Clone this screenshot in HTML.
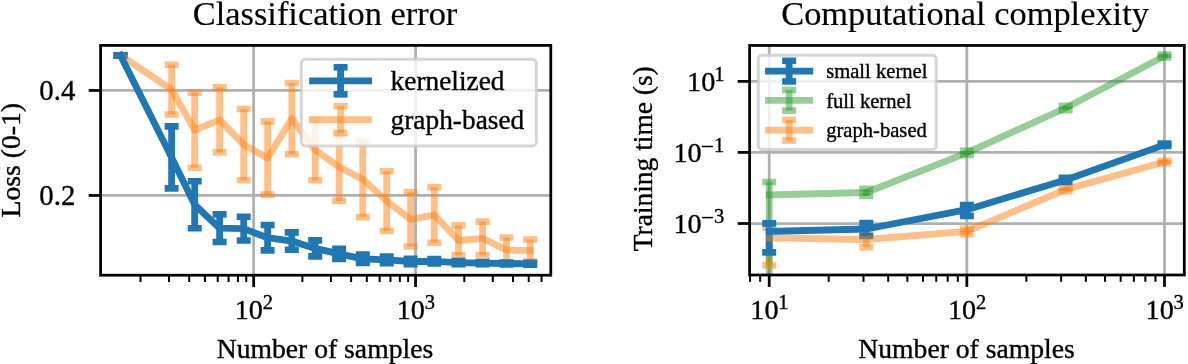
<!DOCTYPE html>
<html><head><meta charset="utf-8"><style>
html,body{margin:0;padding:0;background:#fff;width:1188px;height:364px;overflow:hidden}
text{font-family:"Liberation Serif", serif;stroke:#000;stroke-width:0.35px}
</style></head><body>
<svg width="1188" height="364" viewBox="0 0 1188 364" style="display:block;will-change:transform">
<rect width="1188" height="364" fill="#fff"/>
<defs>
<clipPath id="cl"><rect x="100.6" y="45.4" width="450.19999999999993" height="229.79999999999998"/></clipPath>
<clipPath id="cr"><rect x="749.6" y="45.45" width="434.69999999999993" height="229.55"/></clipPath>
</defs>
<g clip-path="url(#cl)">
<line x1="253.65" y1="45.4" x2="253.65" y2="275.2" stroke="#b0b0b0" stroke-width="2.75"/>
<line x1="415.55" y1="45.4" x2="415.55" y2="275.2" stroke="#b0b0b0" stroke-width="2.75"/>
<line x1="100.6" y1="90.45" x2="550.8" y2="90.45" stroke="#b0b0b0" stroke-width="2.75"/>
<line x1="100.6" y1="195.45" x2="550.8" y2="195.45" stroke="#b0b0b0" stroke-width="2.75"/>
<line x1="171.60" y1="64.70" x2="171.60" y2="114.50" stroke="#ff7f0e" stroke-width="6.8" stroke-opacity="0.5"/>
<line x1="194.70" y1="92.60" x2="194.70" y2="167.80" stroke="#ff7f0e" stroke-width="6.8" stroke-opacity="0.5"/>
<line x1="219.60" y1="87.40" x2="219.60" y2="152.40" stroke="#ff7f0e" stroke-width="6.8" stroke-opacity="0.5"/>
<line x1="243.70" y1="109.00" x2="243.70" y2="180.20" stroke="#ff7f0e" stroke-width="6.8" stroke-opacity="0.5"/>
<line x1="267.60" y1="121.40" x2="267.60" y2="194.60" stroke="#ff7f0e" stroke-width="6.8" stroke-opacity="0.5"/>
<line x1="291.80" y1="83.00" x2="291.80" y2="154.20" stroke="#ff7f0e" stroke-width="6.8" stroke-opacity="0.5"/>
<line x1="315.20" y1="119.50" x2="315.20" y2="180.30" stroke="#ff7f0e" stroke-width="6.8" stroke-opacity="0.5"/>
<line x1="339.10" y1="133.10" x2="339.10" y2="200.90" stroke="#ff7f0e" stroke-width="6.8" stroke-opacity="0.5"/>
<line x1="362.80" y1="141.50" x2="362.80" y2="217.10" stroke="#ff7f0e" stroke-width="6.8" stroke-opacity="0.5"/>
<line x1="386.70" y1="171.20" x2="386.70" y2="231.00" stroke="#ff7f0e" stroke-width="6.8" stroke-opacity="0.5"/>
<line x1="410.60" y1="192.10" x2="410.60" y2="246.50" stroke="#ff7f0e" stroke-width="6.8" stroke-opacity="0.5"/>
<line x1="434.30" y1="187.30" x2="434.30" y2="242.70" stroke="#ff7f0e" stroke-width="6.8" stroke-opacity="0.5"/>
<line x1="458.50" y1="225.40" x2="458.50" y2="255.20" stroke="#ff7f0e" stroke-width="6.8" stroke-opacity="0.5"/>
<line x1="482.60" y1="221.60" x2="482.60" y2="255.20" stroke="#ff7f0e" stroke-width="6.8" stroke-opacity="0.5"/>
<line x1="506.50" y1="237.50" x2="506.50" y2="262.50" stroke="#ff7f0e" stroke-width="6.8" stroke-opacity="0.5"/>
<line x1="530.20" y1="239.50" x2="530.20" y2="261.50" stroke="#ff7f0e" stroke-width="6.8" stroke-opacity="0.5"/>
<line x1="171.60" y1="126.40" x2="171.60" y2="188.40" stroke="#1f77b4" stroke-width="6.8"/>
<line x1="194.70" y1="181.20" x2="194.70" y2="228.20" stroke="#1f77b4" stroke-width="6.8"/>
<line x1="219.60" y1="214.40" x2="219.60" y2="242.00" stroke="#1f77b4" stroke-width="6.8"/>
<line x1="243.70" y1="216.70" x2="243.70" y2="240.50" stroke="#1f77b4" stroke-width="6.8"/>
<line x1="267.60" y1="225.00" x2="267.60" y2="250.40" stroke="#1f77b4" stroke-width="6.8"/>
<line x1="291.80" y1="232.40" x2="291.80" y2="249.80" stroke="#1f77b4" stroke-width="6.8"/>
<line x1="315.20" y1="240.40" x2="315.20" y2="256.40" stroke="#1f77b4" stroke-width="6.8"/>
<line x1="339.10" y1="248.90" x2="339.10" y2="258.90" stroke="#1f77b4" stroke-width="6.8"/>
<line x1="362.80" y1="254.60" x2="362.80" y2="263.00" stroke="#1f77b4" stroke-width="6.8"/>
<line x1="386.70" y1="256.60" x2="386.70" y2="263.20" stroke="#1f77b4" stroke-width="6.8"/>
<line x1="410.60" y1="258.75" x2="410.60" y2="264.25" stroke="#1f77b4" stroke-width="6.8"/>
<line x1="434.30" y1="259.05" x2="434.30" y2="263.55" stroke="#1f77b4" stroke-width="6.8"/>
<line x1="458.50" y1="261.00" x2="458.50" y2="264.20" stroke="#1f77b4" stroke-width="6.8"/>
<line x1="482.60" y1="262.10" x2="482.60" y2="264.30" stroke="#1f77b4" stroke-width="6.8"/>
<line x1="506.50" y1="262.50" x2="506.50" y2="264.50" stroke="#1f77b4" stroke-width="6.8"/>
<line x1="530.20" y1="262.80" x2="530.20" y2="264.80" stroke="#1f77b4" stroke-width="6.8"/>
<line x1="113.50" y1="55.40" x2="127.50" y2="55.40" stroke="#ff7f0e" stroke-width="6.6" stroke-opacity="0.5"/>
<line x1="164.60" y1="114.50" x2="178.60" y2="114.50" stroke="#ff7f0e" stroke-width="6.6" stroke-opacity="0.5"/>
<line x1="187.70" y1="167.80" x2="201.70" y2="167.80" stroke="#ff7f0e" stroke-width="6.6" stroke-opacity="0.5"/>
<line x1="212.60" y1="152.40" x2="226.60" y2="152.40" stroke="#ff7f0e" stroke-width="6.6" stroke-opacity="0.5"/>
<line x1="236.70" y1="180.20" x2="250.70" y2="180.20" stroke="#ff7f0e" stroke-width="6.6" stroke-opacity="0.5"/>
<line x1="260.60" y1="194.60" x2="274.60" y2="194.60" stroke="#ff7f0e" stroke-width="6.6" stroke-opacity="0.5"/>
<line x1="284.80" y1="154.20" x2="298.80" y2="154.20" stroke="#ff7f0e" stroke-width="6.6" stroke-opacity="0.5"/>
<line x1="308.20" y1="180.30" x2="322.20" y2="180.30" stroke="#ff7f0e" stroke-width="6.6" stroke-opacity="0.5"/>
<line x1="332.10" y1="200.90" x2="346.10" y2="200.90" stroke="#ff7f0e" stroke-width="6.6" stroke-opacity="0.5"/>
<line x1="355.80" y1="217.10" x2="369.80" y2="217.10" stroke="#ff7f0e" stroke-width="6.6" stroke-opacity="0.5"/>
<line x1="379.70" y1="231.00" x2="393.70" y2="231.00" stroke="#ff7f0e" stroke-width="6.6" stroke-opacity="0.5"/>
<line x1="403.60" y1="246.50" x2="417.60" y2="246.50" stroke="#ff7f0e" stroke-width="6.6" stroke-opacity="0.5"/>
<line x1="427.30" y1="242.70" x2="441.30" y2="242.70" stroke="#ff7f0e" stroke-width="6.6" stroke-opacity="0.5"/>
<line x1="451.50" y1="255.20" x2="465.50" y2="255.20" stroke="#ff7f0e" stroke-width="6.6" stroke-opacity="0.5"/>
<line x1="475.60" y1="255.20" x2="489.60" y2="255.20" stroke="#ff7f0e" stroke-width="6.6" stroke-opacity="0.5"/>
<line x1="499.50" y1="262.50" x2="513.50" y2="262.50" stroke="#ff7f0e" stroke-width="6.6" stroke-opacity="0.5"/>
<line x1="523.20" y1="261.50" x2="537.20" y2="261.50" stroke="#ff7f0e" stroke-width="6.6" stroke-opacity="0.5"/>
<line x1="113.50" y1="55.40" x2="127.50" y2="55.40" stroke="#ff7f0e" stroke-width="6.6" stroke-opacity="0.5"/>
<line x1="164.60" y1="64.70" x2="178.60" y2="64.70" stroke="#ff7f0e" stroke-width="6.6" stroke-opacity="0.5"/>
<line x1="187.70" y1="92.60" x2="201.70" y2="92.60" stroke="#ff7f0e" stroke-width="6.6" stroke-opacity="0.5"/>
<line x1="212.60" y1="87.40" x2="226.60" y2="87.40" stroke="#ff7f0e" stroke-width="6.6" stroke-opacity="0.5"/>
<line x1="236.70" y1="109.00" x2="250.70" y2="109.00" stroke="#ff7f0e" stroke-width="6.6" stroke-opacity="0.5"/>
<line x1="260.60" y1="121.40" x2="274.60" y2="121.40" stroke="#ff7f0e" stroke-width="6.6" stroke-opacity="0.5"/>
<line x1="284.80" y1="83.00" x2="298.80" y2="83.00" stroke="#ff7f0e" stroke-width="6.6" stroke-opacity="0.5"/>
<line x1="308.20" y1="119.50" x2="322.20" y2="119.50" stroke="#ff7f0e" stroke-width="6.6" stroke-opacity="0.5"/>
<line x1="332.10" y1="133.10" x2="346.10" y2="133.10" stroke="#ff7f0e" stroke-width="6.6" stroke-opacity="0.5"/>
<line x1="355.80" y1="141.50" x2="369.80" y2="141.50" stroke="#ff7f0e" stroke-width="6.6" stroke-opacity="0.5"/>
<line x1="379.70" y1="171.20" x2="393.70" y2="171.20" stroke="#ff7f0e" stroke-width="6.6" stroke-opacity="0.5"/>
<line x1="403.60" y1="192.10" x2="417.60" y2="192.10" stroke="#ff7f0e" stroke-width="6.6" stroke-opacity="0.5"/>
<line x1="427.30" y1="187.30" x2="441.30" y2="187.30" stroke="#ff7f0e" stroke-width="6.6" stroke-opacity="0.5"/>
<line x1="451.50" y1="225.40" x2="465.50" y2="225.40" stroke="#ff7f0e" stroke-width="6.6" stroke-opacity="0.5"/>
<line x1="475.60" y1="221.60" x2="489.60" y2="221.60" stroke="#ff7f0e" stroke-width="6.6" stroke-opacity="0.5"/>
<line x1="499.50" y1="237.50" x2="513.50" y2="237.50" stroke="#ff7f0e" stroke-width="6.6" stroke-opacity="0.5"/>
<line x1="523.20" y1="239.50" x2="537.20" y2="239.50" stroke="#ff7f0e" stroke-width="6.6" stroke-opacity="0.5"/>
<line x1="113.50" y1="55.40" x2="127.50" y2="55.40" stroke="#1f77b4" stroke-width="6.6"/>
<line x1="164.60" y1="188.40" x2="178.60" y2="188.40" stroke="#1f77b4" stroke-width="6.6"/>
<line x1="187.70" y1="228.20" x2="201.70" y2="228.20" stroke="#1f77b4" stroke-width="6.6"/>
<line x1="212.60" y1="242.00" x2="226.60" y2="242.00" stroke="#1f77b4" stroke-width="6.6"/>
<line x1="236.70" y1="240.50" x2="250.70" y2="240.50" stroke="#1f77b4" stroke-width="6.6"/>
<line x1="260.60" y1="250.40" x2="274.60" y2="250.40" stroke="#1f77b4" stroke-width="6.6"/>
<line x1="284.80" y1="249.80" x2="298.80" y2="249.80" stroke="#1f77b4" stroke-width="6.6"/>
<line x1="308.20" y1="256.40" x2="322.20" y2="256.40" stroke="#1f77b4" stroke-width="6.6"/>
<line x1="332.10" y1="258.90" x2="346.10" y2="258.90" stroke="#1f77b4" stroke-width="6.6"/>
<line x1="355.80" y1="263.00" x2="369.80" y2="263.00" stroke="#1f77b4" stroke-width="6.6"/>
<line x1="379.70" y1="263.20" x2="393.70" y2="263.20" stroke="#1f77b4" stroke-width="6.6"/>
<line x1="403.60" y1="264.25" x2="417.60" y2="264.25" stroke="#1f77b4" stroke-width="6.6"/>
<line x1="427.30" y1="263.55" x2="441.30" y2="263.55" stroke="#1f77b4" stroke-width="6.6"/>
<line x1="451.50" y1="264.20" x2="465.50" y2="264.20" stroke="#1f77b4" stroke-width="6.6"/>
<line x1="475.60" y1="264.30" x2="489.60" y2="264.30" stroke="#1f77b4" stroke-width="6.6"/>
<line x1="499.50" y1="264.50" x2="513.50" y2="264.50" stroke="#1f77b4" stroke-width="6.6"/>
<line x1="523.20" y1="264.80" x2="537.20" y2="264.80" stroke="#1f77b4" stroke-width="6.6"/>
<line x1="113.50" y1="55.40" x2="127.50" y2="55.40" stroke="#1f77b4" stroke-width="6.6"/>
<line x1="164.60" y1="126.40" x2="178.60" y2="126.40" stroke="#1f77b4" stroke-width="6.6"/>
<line x1="187.70" y1="181.20" x2="201.70" y2="181.20" stroke="#1f77b4" stroke-width="6.6"/>
<line x1="212.60" y1="214.40" x2="226.60" y2="214.40" stroke="#1f77b4" stroke-width="6.6"/>
<line x1="236.70" y1="216.70" x2="250.70" y2="216.70" stroke="#1f77b4" stroke-width="6.6"/>
<line x1="260.60" y1="225.00" x2="274.60" y2="225.00" stroke="#1f77b4" stroke-width="6.6"/>
<line x1="284.80" y1="232.40" x2="298.80" y2="232.40" stroke="#1f77b4" stroke-width="6.6"/>
<line x1="308.20" y1="240.40" x2="322.20" y2="240.40" stroke="#1f77b4" stroke-width="6.6"/>
<line x1="332.10" y1="248.90" x2="346.10" y2="248.90" stroke="#1f77b4" stroke-width="6.6"/>
<line x1="355.80" y1="254.60" x2="369.80" y2="254.60" stroke="#1f77b4" stroke-width="6.6"/>
<line x1="379.70" y1="256.60" x2="393.70" y2="256.60" stroke="#1f77b4" stroke-width="6.6"/>
<line x1="403.60" y1="258.75" x2="417.60" y2="258.75" stroke="#1f77b4" stroke-width="6.6"/>
<line x1="427.30" y1="259.05" x2="441.30" y2="259.05" stroke="#1f77b4" stroke-width="6.6"/>
<line x1="451.50" y1="261.00" x2="465.50" y2="261.00" stroke="#1f77b4" stroke-width="6.6"/>
<line x1="475.60" y1="262.10" x2="489.60" y2="262.10" stroke="#1f77b4" stroke-width="6.6"/>
<line x1="499.50" y1="262.50" x2="513.50" y2="262.50" stroke="#1f77b4" stroke-width="6.6"/>
<line x1="523.20" y1="262.80" x2="537.20" y2="262.80" stroke="#1f77b4" stroke-width="6.6"/>
<polyline points="120.50,55.40 171.60,89.60 194.70,130.20 219.60,119.90 243.70,144.60 267.60,158.00 291.80,118.60 315.20,149.90 339.10,167.00 362.80,179.30 386.70,201.10 410.60,219.30 434.30,215.00 458.50,240.30 482.60,238.40 506.50,250.00 530.20,250.50" fill="none" stroke="#ff7f0e" stroke-width="6.8" stroke-linejoin="round" stroke-linecap="square" stroke-opacity="0.5"/>
<polyline points="120.50,55.40 171.60,157.40 194.70,204.70 219.60,228.20 243.70,228.60 267.60,237.70 291.80,241.10 315.20,248.40 339.10,253.90 362.80,258.80 386.70,259.90 410.60,261.50 434.30,261.30 458.50,262.60 482.60,263.20 506.50,263.50 530.20,263.80" fill="none" stroke="#1f77b4" stroke-width="6.8" stroke-linejoin="round" stroke-linecap="square"/>
</g>
<line x1="140.49" y1="275.2" x2="140.49" y2="282.00" stroke="#000" stroke-width="2.0"/>
<line x1="169.00" y1="275.2" x2="169.00" y2="282.00" stroke="#000" stroke-width="2.0"/>
<line x1="189.22" y1="275.2" x2="189.22" y2="282.00" stroke="#000" stroke-width="2.0"/>
<line x1="204.91" y1="275.2" x2="204.91" y2="282.00" stroke="#000" stroke-width="2.0"/>
<line x1="217.73" y1="275.2" x2="217.73" y2="282.00" stroke="#000" stroke-width="2.0"/>
<line x1="228.57" y1="275.2" x2="228.57" y2="282.00" stroke="#000" stroke-width="2.0"/>
<line x1="237.96" y1="275.2" x2="237.96" y2="282.00" stroke="#000" stroke-width="2.0"/>
<line x1="246.24" y1="275.2" x2="246.24" y2="282.00" stroke="#000" stroke-width="2.0"/>
<line x1="253.65" y1="275.2" x2="253.65" y2="287.10" stroke="#000" stroke-width="2.75"/>
<line x1="302.39" y1="275.2" x2="302.39" y2="282.00" stroke="#000" stroke-width="2.0"/>
<line x1="330.90" y1="275.2" x2="330.90" y2="282.00" stroke="#000" stroke-width="2.0"/>
<line x1="351.12" y1="275.2" x2="351.12" y2="282.00" stroke="#000" stroke-width="2.0"/>
<line x1="366.81" y1="275.2" x2="366.81" y2="282.00" stroke="#000" stroke-width="2.0"/>
<line x1="379.63" y1="275.2" x2="379.63" y2="282.00" stroke="#000" stroke-width="2.0"/>
<line x1="390.47" y1="275.2" x2="390.47" y2="282.00" stroke="#000" stroke-width="2.0"/>
<line x1="399.86" y1="275.2" x2="399.86" y2="282.00" stroke="#000" stroke-width="2.0"/>
<line x1="408.14" y1="275.2" x2="408.14" y2="282.00" stroke="#000" stroke-width="2.0"/>
<line x1="415.55" y1="275.2" x2="415.55" y2="287.10" stroke="#000" stroke-width="2.75"/>
<line x1="464.29" y1="275.2" x2="464.29" y2="282.00" stroke="#000" stroke-width="2.0"/>
<line x1="492.80" y1="275.2" x2="492.80" y2="282.00" stroke="#000" stroke-width="2.0"/>
<line x1="513.02" y1="275.2" x2="513.02" y2="282.00" stroke="#000" stroke-width="2.0"/>
<line x1="528.71" y1="275.2" x2="528.71" y2="282.00" stroke="#000" stroke-width="2.0"/>
<line x1="541.53" y1="275.2" x2="541.53" y2="282.00" stroke="#000" stroke-width="2.0"/>
<line x1="100.6" y1="90.45" x2="88.70" y2="90.45" stroke="#000" stroke-width="2.75"/>
<line x1="100.6" y1="195.45" x2="88.70" y2="195.45" stroke="#000" stroke-width="2.75"/>
<g clip-path="url(#cr)">
<line x1="769.2" y1="45.45" x2="769.2" y2="275.0" stroke="#b0b0b0" stroke-width="2.75"/>
<line x1="966.85" y1="45.45" x2="966.85" y2="275.0" stroke="#b0b0b0" stroke-width="2.75"/>
<line x1="1164.5" y1="45.45" x2="1164.5" y2="275.0" stroke="#b0b0b0" stroke-width="2.75"/>
<line x1="749.6" y1="81.4" x2="1184.3" y2="81.4" stroke="#b0b0b0" stroke-width="2.75"/>
<line x1="749.6" y1="152.4" x2="1184.3" y2="152.4" stroke="#b0b0b0" stroke-width="2.75"/>
<line x1="749.6" y1="223.5" x2="1184.3" y2="223.5" stroke="#b0b0b0" stroke-width="2.75"/>
<line x1="769.20" y1="228.00" x2="769.20" y2="265.40" stroke="#ff7f0e" stroke-width="6.8" stroke-opacity="0.5"/>
<line x1="866.30" y1="234.60" x2="866.30" y2="247.10" stroke="#ff7f0e" stroke-width="6.8" stroke-opacity="0.5"/>
<line x1="966.85" y1="228.70" x2="966.85" y2="234.20" stroke="#ff7f0e" stroke-width="6.8" stroke-opacity="0.5"/>
<line x1="1065.60" y1="187.50" x2="1065.60" y2="191.20" stroke="#ff7f0e" stroke-width="6.8" stroke-opacity="0.5"/>
<line x1="1164.50" y1="160.80" x2="1164.50" y2="163.20" stroke="#ff7f0e" stroke-width="6.8" stroke-opacity="0.5"/>
<line x1="769.20" y1="182.00" x2="769.20" y2="400.00" stroke="#2ca02c" stroke-width="6.8" stroke-opacity="0.5"/>
<line x1="866.30" y1="188.90" x2="866.30" y2="196.00" stroke="#2ca02c" stroke-width="6.8" stroke-opacity="0.5"/>
<line x1="966.85" y1="150.60" x2="966.85" y2="154.90" stroke="#2ca02c" stroke-width="6.8" stroke-opacity="0.5"/>
<line x1="1065.60" y1="105.80" x2="1065.60" y2="110.10" stroke="#2ca02c" stroke-width="6.8" stroke-opacity="0.5"/>
<line x1="1164.50" y1="54.60" x2="1164.50" y2="57.40" stroke="#2ca02c" stroke-width="6.8" stroke-opacity="0.5"/>
<line x1="769.20" y1="223.40" x2="769.20" y2="252.40" stroke="#1f77b4" stroke-width="6.8"/>
<line x1="866.30" y1="223.00" x2="866.30" y2="236.00" stroke="#1f77b4" stroke-width="6.8"/>
<line x1="966.85" y1="205.00" x2="966.85" y2="215.90" stroke="#1f77b4" stroke-width="6.8"/>
<line x1="1065.60" y1="177.90" x2="1065.60" y2="182.00" stroke="#1f77b4" stroke-width="6.8"/>
<line x1="1164.50" y1="143.60" x2="1164.50" y2="146.00" stroke="#1f77b4" stroke-width="6.8"/>
<line x1="762.20" y1="265.40" x2="776.20" y2="265.40" stroke="#ff7f0e" stroke-width="6.6" stroke-opacity="0.5"/>
<line x1="859.30" y1="247.10" x2="873.30" y2="247.10" stroke="#ff7f0e" stroke-width="6.6" stroke-opacity="0.5"/>
<line x1="959.85" y1="234.20" x2="973.85" y2="234.20" stroke="#ff7f0e" stroke-width="6.6" stroke-opacity="0.5"/>
<line x1="1058.60" y1="191.20" x2="1072.60" y2="191.20" stroke="#ff7f0e" stroke-width="6.6" stroke-opacity="0.5"/>
<line x1="1157.50" y1="163.20" x2="1171.50" y2="163.20" stroke="#ff7f0e" stroke-width="6.6" stroke-opacity="0.5"/>
<line x1="762.20" y1="228.00" x2="776.20" y2="228.00" stroke="#ff7f0e" stroke-width="6.6" stroke-opacity="0.5"/>
<line x1="859.30" y1="234.60" x2="873.30" y2="234.60" stroke="#ff7f0e" stroke-width="6.6" stroke-opacity="0.5"/>
<line x1="959.85" y1="228.70" x2="973.85" y2="228.70" stroke="#ff7f0e" stroke-width="6.6" stroke-opacity="0.5"/>
<line x1="1058.60" y1="187.50" x2="1072.60" y2="187.50" stroke="#ff7f0e" stroke-width="6.6" stroke-opacity="0.5"/>
<line x1="1157.50" y1="160.80" x2="1171.50" y2="160.80" stroke="#ff7f0e" stroke-width="6.6" stroke-opacity="0.5"/>
<line x1="859.30" y1="196.00" x2="873.30" y2="196.00" stroke="#2ca02c" stroke-width="6.6" stroke-opacity="0.5"/>
<line x1="959.85" y1="154.90" x2="973.85" y2="154.90" stroke="#2ca02c" stroke-width="6.6" stroke-opacity="0.5"/>
<line x1="1058.60" y1="110.10" x2="1072.60" y2="110.10" stroke="#2ca02c" stroke-width="6.6" stroke-opacity="0.5"/>
<line x1="1157.50" y1="57.40" x2="1171.50" y2="57.40" stroke="#2ca02c" stroke-width="6.6" stroke-opacity="0.5"/>
<line x1="762.20" y1="182.00" x2="776.20" y2="182.00" stroke="#2ca02c" stroke-width="6.6" stroke-opacity="0.5"/>
<line x1="859.30" y1="188.90" x2="873.30" y2="188.90" stroke="#2ca02c" stroke-width="6.6" stroke-opacity="0.5"/>
<line x1="959.85" y1="150.60" x2="973.85" y2="150.60" stroke="#2ca02c" stroke-width="6.6" stroke-opacity="0.5"/>
<line x1="1058.60" y1="105.80" x2="1072.60" y2="105.80" stroke="#2ca02c" stroke-width="6.6" stroke-opacity="0.5"/>
<line x1="1157.50" y1="54.60" x2="1171.50" y2="54.60" stroke="#2ca02c" stroke-width="6.6" stroke-opacity="0.5"/>
<line x1="762.20" y1="252.40" x2="776.20" y2="252.40" stroke="#1f77b4" stroke-width="6.6"/>
<line x1="859.30" y1="236.00" x2="873.30" y2="236.00" stroke="#1f77b4" stroke-width="6.6"/>
<line x1="959.85" y1="215.90" x2="973.85" y2="215.90" stroke="#1f77b4" stroke-width="6.6"/>
<line x1="1058.60" y1="182.00" x2="1072.60" y2="182.00" stroke="#1f77b4" stroke-width="6.6"/>
<line x1="1157.50" y1="146.00" x2="1171.50" y2="146.00" stroke="#1f77b4" stroke-width="6.6"/>
<line x1="762.20" y1="223.40" x2="776.20" y2="223.40" stroke="#1f77b4" stroke-width="6.6"/>
<line x1="859.30" y1="223.00" x2="873.30" y2="223.00" stroke="#1f77b4" stroke-width="6.6"/>
<line x1="959.85" y1="205.00" x2="973.85" y2="205.00" stroke="#1f77b4" stroke-width="6.6"/>
<line x1="1058.60" y1="177.90" x2="1072.60" y2="177.90" stroke="#1f77b4" stroke-width="6.6"/>
<line x1="1157.50" y1="143.60" x2="1171.50" y2="143.60" stroke="#1f77b4" stroke-width="6.6"/>
<polyline points="769.20,238.00 866.30,239.50 966.85,231.30 1065.60,189.50 1164.50,162.00" fill="none" stroke="#ff7f0e" stroke-width="6.8" stroke-linejoin="round" stroke-linecap="square" stroke-opacity="0.5"/>
<polyline points="769.20,195.00 866.30,192.50 966.85,152.80 1065.60,108.00 1164.50,56.00" fill="none" stroke="#2ca02c" stroke-width="6.8" stroke-linejoin="round" stroke-linecap="square" stroke-opacity="0.5"/>
<polyline points="769.20,231.50 866.30,229.00 966.85,209.70 1065.60,180.00 1164.50,144.80" fill="none" stroke="#1f77b4" stroke-width="6.8" stroke-linejoin="round" stroke-linecap="square"/>
</g>
<line x1="750.05" y1="275.0" x2="750.05" y2="281.80" stroke="#000" stroke-width="2.0"/>
<line x1="760.16" y1="275.0" x2="760.16" y2="281.80" stroke="#000" stroke-width="2.0"/>
<line x1="769.20" y1="275.0" x2="769.20" y2="286.90" stroke="#000" stroke-width="2.75"/>
<line x1="828.70" y1="275.0" x2="828.70" y2="281.80" stroke="#000" stroke-width="2.0"/>
<line x1="863.50" y1="275.0" x2="863.50" y2="281.80" stroke="#000" stroke-width="2.0"/>
<line x1="888.20" y1="275.0" x2="888.20" y2="281.80" stroke="#000" stroke-width="2.0"/>
<line x1="907.35" y1="275.0" x2="907.35" y2="281.80" stroke="#000" stroke-width="2.0"/>
<line x1="923.00" y1="275.0" x2="923.00" y2="281.80" stroke="#000" stroke-width="2.0"/>
<line x1="936.23" y1="275.0" x2="936.23" y2="281.80" stroke="#000" stroke-width="2.0"/>
<line x1="947.70" y1="275.0" x2="947.70" y2="281.80" stroke="#000" stroke-width="2.0"/>
<line x1="957.81" y1="275.0" x2="957.81" y2="281.80" stroke="#000" stroke-width="2.0"/>
<line x1="966.85" y1="275.0" x2="966.85" y2="286.90" stroke="#000" stroke-width="2.75"/>
<line x1="1026.35" y1="275.0" x2="1026.35" y2="281.80" stroke="#000" stroke-width="2.0"/>
<line x1="1061.15" y1="275.0" x2="1061.15" y2="281.80" stroke="#000" stroke-width="2.0"/>
<line x1="1085.85" y1="275.0" x2="1085.85" y2="281.80" stroke="#000" stroke-width="2.0"/>
<line x1="1105.00" y1="275.0" x2="1105.00" y2="281.80" stroke="#000" stroke-width="2.0"/>
<line x1="1120.65" y1="275.0" x2="1120.65" y2="281.80" stroke="#000" stroke-width="2.0"/>
<line x1="1133.88" y1="275.0" x2="1133.88" y2="281.80" stroke="#000" stroke-width="2.0"/>
<line x1="1145.35" y1="275.0" x2="1145.35" y2="281.80" stroke="#000" stroke-width="2.0"/>
<line x1="1155.46" y1="275.0" x2="1155.46" y2="281.80" stroke="#000" stroke-width="2.0"/>
<line x1="1164.50" y1="275.0" x2="1164.50" y2="286.90" stroke="#000" stroke-width="2.75"/>
<line x1="749.6" y1="81.4" x2="737.70" y2="81.4" stroke="#000" stroke-width="2.75"/>
<line x1="749.6" y1="152.4" x2="737.70" y2="152.4" stroke="#000" stroke-width="2.75"/>
<line x1="749.6" y1="223.5" x2="737.70" y2="223.5" stroke="#000" stroke-width="2.75"/>
<rect x="100.6" y="45.4" width="450.20" height="229.80" fill="none" stroke="#000" stroke-width="2.75" stroke-linejoin="miter"/>
<rect x="749.6" y="45.45" width="434.70" height="229.55" fill="none" stroke="#000" stroke-width="2.75" stroke-linejoin="miter"/>
<g font-family='"Liberation Serif", serif' fill="#000">
<rect x="301.3" y="59.3" width="235.10" height="86.70" rx="4.5" ry="4.5" fill="#fff" fill-opacity="0.8" stroke="#cccccc" stroke-opacity="0.8" stroke-width="3.0"/>
<line x1="309.2" y1="80.8" x2="372.0" y2="80.8" stroke="#1f77b4" stroke-width="6.8"/>
<line x1="340.6" y1="67.3" x2="340.6" y2="94.3" stroke="#1f77b4" stroke-width="6.8"/>
<line x1="333.6" y1="94.3" x2="347.6" y2="94.3" stroke="#1f77b4" stroke-width="6.6"/>
<line x1="333.6" y1="67.3" x2="347.6" y2="67.3" stroke="#1f77b4" stroke-width="6.6"/>
<text x="390.6" y="89.7" font-size="27.35">kernelized</text>
<line x1="309.2" y1="119.6" x2="372.0" y2="119.6" stroke="#ff7f0e" stroke-width="6.8" stroke-opacity="0.5"/>
<line x1="340.6" y1="106.1" x2="340.6" y2="133.1" stroke="#ff7f0e" stroke-width="6.8" stroke-opacity="0.5"/>
<line x1="333.6" y1="133.1" x2="347.6" y2="133.1" stroke="#ff7f0e" stroke-width="6.6" stroke-opacity="0.5"/>
<line x1="333.6" y1="106.1" x2="347.6" y2="106.1" stroke="#ff7f0e" stroke-width="6.6" stroke-opacity="0.5"/>
<text x="390.6" y="128.8" font-size="27.35">graph-based</text>
<rect x="758.3" y="55.2" width="177.90" height="94.40" rx="3.6" ry="3.6" fill="#fff" fill-opacity="0.8" stroke="#cccccc" stroke-opacity="0.8" stroke-width="3.0"/>
<line x1="765.1" y1="71.1" x2="813.2" y2="71.1" stroke="#1f77b4" stroke-width="6.8"/>
<line x1="789.1500000000001" y1="60.8" x2="789.1500000000001" y2="81.39999999999999" stroke="#1f77b4" stroke-width="6.8"/>
<line x1="782.1500000000001" y1="81.39999999999999" x2="796.1500000000001" y2="81.39999999999999" stroke="#1f77b4" stroke-width="6.6"/>
<line x1="782.1500000000001" y1="60.8" x2="796.1500000000001" y2="60.8" stroke="#1f77b4" stroke-width="6.6"/>
<text x="826.2" y="78.2" font-size="20.6">small kernel</text>
<line x1="765.1" y1="100.3" x2="813.2" y2="100.3" stroke="#2ca02c" stroke-width="6.8" stroke-opacity="0.5"/>
<line x1="789.1500000000001" y1="90.0" x2="789.1500000000001" y2="110.6" stroke="#2ca02c" stroke-width="6.8" stroke-opacity="0.5"/>
<line x1="782.1500000000001" y1="110.6" x2="796.1500000000001" y2="110.6" stroke="#2ca02c" stroke-width="6.6" stroke-opacity="0.5"/>
<line x1="782.1500000000001" y1="90.0" x2="796.1500000000001" y2="90.0" stroke="#2ca02c" stroke-width="6.6" stroke-opacity="0.5"/>
<text x="826.2" y="107.6" font-size="20.6">full kernel</text>
<line x1="765.1" y1="130.2" x2="813.2" y2="130.2" stroke="#ff7f0e" stroke-width="6.8" stroke-opacity="0.5"/>
<line x1="789.1500000000001" y1="119.89999999999999" x2="789.1500000000001" y2="140.5" stroke="#ff7f0e" stroke-width="6.8" stroke-opacity="0.5"/>
<line x1="782.1500000000001" y1="140.5" x2="796.1500000000001" y2="140.5" stroke="#ff7f0e" stroke-width="6.6" stroke-opacity="0.5"/>
<line x1="782.1500000000001" y1="119.89999999999999" x2="796.1500000000001" y2="119.89999999999999" stroke="#ff7f0e" stroke-width="6.6" stroke-opacity="0.5"/>
<text x="826.2" y="137.3" font-size="20.6">graph-based</text>
<text x="192.80" y="24.70" font-size="34.4" style="stroke-width:0.15px">Classification error</text>
<text x="781.20" y="24.70" font-size="34.4" style="stroke-width:0.15px">Computational complexity</text>
<text x="216.70" y="357.70" font-size="27.65">Number of samples</text>
<text x="858.30" y="357.70" font-size="27.65">Number of samples</text>
<text transform="translate(19.6 217.5) rotate(-90)" font-size="27.7">Loss (0-1)</text>
<text transform="translate(652.3 251.2) rotate(-90)" font-size="27.45">Training time (s)</text>
<text x="39.30" y="99.90" font-size="28.8">0.4</text>
<text x="39.30" y="204.90" font-size="28.8">0.2</text>
<text x="234.75" y="318.70" font-size="28.2">10</text><text x="262.75" y="308.50" font-size="20.5">2</text>
<text x="396.65" y="318.70" font-size="28.2">10</text><text x="424.65" y="308.50" font-size="20.5">3</text>
<text x="750.30" y="318.70" font-size="28.2">10</text><text x="778.30" y="308.50" font-size="20.5">1</text>
<text x="947.95" y="318.70" font-size="28.2">10</text><text x="975.95" y="308.50" font-size="20.5">2</text>
<text x="1145.60" y="318.70" font-size="28.2">10</text><text x="1173.60" y="308.50" font-size="20.5">3</text>
<text x="687.10" y="91.10" font-size="28.2">10</text><text x="714.30" y="80.60" font-size="20.5">1</text>
<text x="673.50" y="162.10" font-size="28.2">10</text><rect x="701.9" y="145.75" width="11.0" height="1.5" fill="#000"/><text x="713.90" y="151.60" font-size="20.5">1</text>
<text x="673.50" y="233.20" font-size="28.2">10</text><rect x="701.9" y="216.85" width="11.0" height="1.5" fill="#000"/><text x="713.90" y="222.70" font-size="20.5">3</text>
</g>
</svg>
</body></html>
